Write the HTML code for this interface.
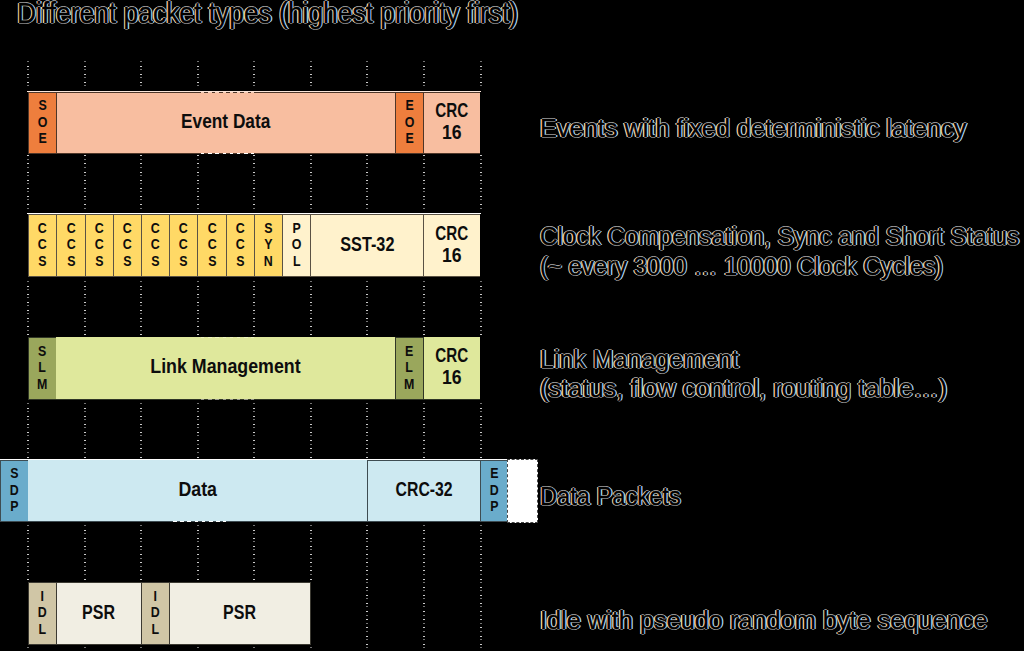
<!DOCTYPE html>
<html><head><meta charset="utf-8"><style>
html,body{margin:0;padding:0;background:#000;width:1024px;height:651px;overflow:hidden;position:relative}
*{box-sizing:border-box}
div{position:absolute}
.t{white-space:nowrap;font-family:"Liberation Sans",sans-serif;color:#000;
 -webkit-text-stroke:0.5px #000;text-shadow:-1.5px 0 0 #ffdcb0,1.5px 0 0 #b0dcff,0 -1px 0 rgba(255,255,255,.7),0 1px 0 rgba(255,255,255,.6);
 transform-origin:0 0;line-height:1}
.g{width:2px;height:590px;top:61px;
 background:repeating-linear-gradient(to bottom,rgba(255,255,255,.45) 0 1px,rgba(255,255,255,0) 1px 4.8px,rgba(255,255,255,.8) 4.8px 5.8px,rgba(255,255,255,0) 5.8px 8.14px)}
.c{display:flex;align-items:center;justify-content:center;font-family:"Liberation Sans",sans-serif;font-weight:bold;color:#0d0d0d;text-align:center;white-space:nowrap}
.c span{display:inline-block}
.v span{font-size:14.6px;line-height:16.5px;transform:translateY(-1.5px) scaleX(0.85)}
.l span{font-size:20px;line-height:20px;transform:translateY(-2px)}
.k>span{font-size:20px;line-height:22px;transform:translateY(-2.4px)}
.k span span{display:block}
.k .a{transform:scaleX(0.76)}
.k .b{transform:scaleX(0.88)}
</style></head><body>
<div class="t" id="title" style="left:17.00px;top:-1.35px;font-size:29.5px;transform:scale(0.8946,0.97)">Different packet types (highest priority first)</div>
<div class="g" style="left:27px"></div>
<div class="g" style="left:84px"></div>
<div class="g" style="left:140px"></div>
<div class="g" style="left:197px"></div>
<div class="g" style="left:253px"></div>
<div class="g" style="left:310px"></div>
<div class="g" style="left:366px"></div>
<div class="g" style="left:423px"></div>
<div class="g" style="left:480px"></div>
<div style="left:26px;top:90px;width:456px;height:65px;background:#000;"></div>
<div style="left:27px;top:91px;width:454px;height:1px;background:#fbe6da;"></div>
<div style="left:28px;top:92px;width:452px;height:62px;background:#4e3628;"></div>
<div class="c v" style="left:29px;top:93px;width:27px;height:60px;background:#ee7e3d"><span>S<br>O<br>E</span></div>
<div class="c l" style="left:57px;top:93px;width:338px;height:60px;background:#f8bea0"><span style="transform:translateY(-2px) scaleX(0.863)">Event Data</span></div>
<div class="c v" style="left:396px;top:93px;width:27px;height:60px;background:#ee7e3d"><span>E<br>O<br>E</span></div>
<div class="c k" style="left:424px;top:93px;width:56px;height:60px;background:#f8bea0"><span><span class="a">CRC</span><span class="b">16</span></span></div>
<div style="left:201px;top:92px;width:53px;height:1px;background:repeating-linear-gradient(to right,#f5cdb8 0 3.5px,#4e3628 3.5px 7.2px);"></div>
<div style="left:201px;top:153px;width:53px;height:1px;background:repeating-linear-gradient(to right,#ffffff 0 3.5px,#4e3628 3.5px 7.2px);"></div>
<div style="left:26px;top:212px;width:456px;height:66px;background:#000;"></div>
<div style="left:27px;top:213px;width:454px;height:1px;background:#ffffff;"></div>
<div style="left:28px;top:214px;width:452px;height:63px;background:#5a5244;"></div>
<div class="c v" style="left:29px;top:215px;width:27px;height:61px;background:#ffd966"><span>C<br>C<br>S</span></div>
<div class="c v" style="left:57px;top:215px;width:28px;height:61px;background:#ffd966"><span>C<br>C<br>S</span></div>
<div class="c v" style="left:86px;top:215px;width:27px;height:61px;background:#ffd966"><span>C<br>C<br>S</span></div>
<div class="c v" style="left:114px;top:215px;width:27px;height:61px;background:#ffd966"><span>C<br>C<br>S</span></div>
<div class="c v" style="left:142px;top:215px;width:27px;height:61px;background:#ffd966"><span>C<br>C<br>S</span></div>
<div class="c v" style="left:170px;top:215px;width:27px;height:61px;background:#ffd966"><span>C<br>C<br>S</span></div>
<div class="c v" style="left:198px;top:215px;width:28px;height:61px;background:#ffd966"><span>C<br>C<br>S</span></div>
<div class="c v" style="left:227px;top:215px;width:27px;height:61px;background:#ffd966"><span>C<br>C<br>S</span></div>
<div class="c v" style="left:255px;top:215px;width:27px;height:61px;background:#ffd966"><span>S<br>Y<br>N</span></div>
<div class="c v" style="left:283px;top:215px;width:27px;height:61px;background:#fff2cc"><span>P<br>O<br>L</span></div>
<div class="c l" style="left:311px;top:215px;width:112px;height:61px;background:#fff2cc"><span style="transform:translateY(-2px) scaleX(0.811)">SST-32</span></div>
<div class="c k" style="left:424px;top:215px;width:56px;height:61px;background:#fff2cc"><span><span class="a">CRC</span><span class="b">16</span></span></div>
<div style="left:26px;top:336px;width:456px;height:65px;background:#000;"></div>
<div style="left:28px;top:337px;width:452px;height:63px;background:#303626;"></div>
<div class="c v" style="left:29px;top:338px;width:27px;height:61px;background:#9aa75c"><span>S<br>L<br>M</span></div>
<div class="c l" style="left:56px;top:337px;width:339px;height:62px;background:#dfe89c"><span style="transform:translateY(-2px) scaleX(0.89)">Link Management</span></div>
<div class="c v" style="left:396px;top:338px;width:27px;height:61px;background:#9aa75c"><span>E<br>L<br>M</span></div>
<div class="c k" style="left:424px;top:337px;width:56px;height:62px;background:#dfe89c"><span><span class="a">CRC</span><span class="b">16</span></span></div>
<div style="left:201px;top:337px;width:53px;height:1px;background:repeating-linear-gradient(to right,#eef4c0 0 3.5px,#dfe89c 3.5px 7.2px);"></div>
<div style="left:201px;top:399px;width:53px;height:1px;background:repeating-linear-gradient(to right,#9a9a90 0 3.5px,#303626 3.5px 7.2px);"></div>
<div style="left:0px;top:458px;width:539px;height:65px;background:#000;"></div>
<div style="left:0px;top:459px;width:509px;height:1px;background:#ffffff;"></div>
<div style="left:0px;top:460px;width:508px;height:62px;background:#3e4c52;"></div>
<div class="c v" style="left:1px;top:461px;width:27px;height:60px;background:#6aaccb"><span>S<br>D<br>P</span></div>
<div class="c l" style="left:28px;top:460px;width:339px;height:61px;background:#cde9f1"><span style="transform:translateY(-2px) scaleX(0.89)">Data</span></div>
<div class="c l" style="left:368px;top:461px;width:112px;height:60px;background:#cde9f1"><span style="transform:translateY(-2px) scaleX(0.79)">CRC-32</span></div>
<div class="c v" style="left:481px;top:461px;width:27px;height:60px;background:#6aaccb"><span>E<br>D<br>P</span></div>
<div style="left:507px;top:459px;width:31px;height:64px;background:#fff;border:1px dashed #444"></div>
<div style="left:173px;top:521px;width:53px;height:1px;background:repeating-linear-gradient(to right,#ffffff 0 3.5px,#3e4c52 3.5px 7.2px);"></div>
<div style="left:26px;top:581px;width:286px;height:65px;background:#000;"></div>
<div style="left:28px;top:582px;width:283px;height:63px;background:#3c3a32;"></div>
<div class="c v" style="left:29px;top:583px;width:27px;height:61px;background:#d0c6a6"><span>I<br>D<br>L</span></div>
<div class="c l" style="left:57px;top:583px;width:84px;height:61px;background:#f1eee3"><span style="transform:translateY(-2px) scaleX(0.8)">PSR</span></div>
<div class="c v" style="left:142px;top:583px;width:27px;height:61px;background:#d0c6a6"><span>I<br>D<br>L</span></div>
<div class="c l" style="left:170px;top:583px;width:140px;height:61px;background:#f1eee3"><span style="transform:translateY(-2px) scaleX(0.8)">PSR</span></div>
<div class="t" id="ev" style="left:540.00px;top:114.80px;font-size:26.5px;transform:scaleX(0.9554)">Events with fixed deterministic latency</div>
<div class="t" id="cl1" style="left:540.42px;top:223.30px;font-size:26.5px;transform:scaleX(0.9164)">Clock Compensation, Sync and Short Status</div>
<div class="t" id="cl2" style="left:539.50px;top:252.50px;font-size:26.5px;transform:scaleX(0.9018)">(~ every 3000 … 10000 Clock Cycles)</div>
<div class="t" id="lk1" style="left:540.00px;top:345.50px;font-size:26.5px;transform:scaleX(0.9434)">Link Management</div>
<div class="t" id="lk2" style="left:540.00px;top:374.80px;font-size:26.5px;transform:scaleX(0.9599)">(status, flow control, routing table…)</div>
<div class="t" id="dp" style="left:540.00px;top:483.20px;font-size:26.5px;transform:scaleX(0.8931)">Data Packets</div>
<div class="t" id="id" style="left:540.00px;top:606.80px;font-size:26.5px;transform:scaleX(0.9552)">Idle with pseudo random byte sequence</div>
</body></html>
